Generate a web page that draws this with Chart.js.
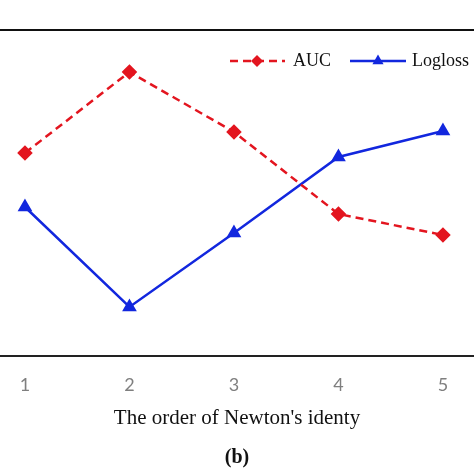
<!DOCTYPE html>
<html>
<head>
<meta charset="utf-8">
<script src="https://cdn.jsdelivr.net/npm/chart.js@4/dist/chart.umd.min.js"></script>
<style>
html, body { margin: 0; padding: 0; background: #fff; }
#wrap { width: 474px; height: 474px; }
</style>
</head>
<body>
<div id="wrap"><canvas id="myChart"></canvas></div>
<script>
// values (no y axis shown, so the units are relative)
const xvals = [1, 2, 3, 4, 5];
const auc = [203, 284, 224, 142, 121];
const logloss = [149, 49, 123, 199, 225];
const seriesNames = ['AUC', 'Logloss'];
const xTitle = "The order of Newton's identy";
const caption = '(b)';

const red = '#e3151f';
const blue = '#1227de';

// legend drawn inside the plot, plus the top frame line
const innerLegend = {
  id: 'innerLegend',
  afterDraw(chart) {
    const ctx = chart.ctx;
    const area = chart.chartArea;
    ctx.save();
    // top line
    ctx.strokeStyle = '#111';
    ctx.lineWidth = 2;
    ctx.beginPath();
    ctx.moveTo(0, area.top);
    ctx.lineTo(chart.width, area.top);
    ctx.stroke();

    const y = area.top + 31;
    // AUC
    ctx.strokeStyle = red;
    ctx.lineWidth = 2.5;
    ctx.setLineDash([8, 5]);
    ctx.beginPath();
    ctx.moveTo(230, y);
    ctx.lineTo(285, y);
    ctx.stroke();
    ctx.setLineDash([]);
    ctx.fillStyle = red;
    ctx.beginPath();
    ctx.moveTo(257 - 6, y);
    ctx.lineTo(257, y - 6);
    ctx.lineTo(257 + 6, y);
    ctx.lineTo(257, y + 6);
    ctx.closePath();
    ctx.fill();
    // Logloss
    ctx.strokeStyle = blue;
    ctx.beginPath();
    ctx.moveTo(350, y);
    ctx.lineTo(406, y);
    ctx.stroke();
    ctx.fillStyle = blue;
    ctx.beginPath();
    ctx.moveTo(378, y - 6.5);
    ctx.lineTo(378 + 5.6, y + 3.3);
    ctx.lineTo(378 - 5.6, y + 3.3);
    ctx.closePath();
    ctx.fill();

    ctx.fillStyle = '#111';
    ctx.font = '18px "Liberation Serif"';
    ctx.textBaseline = 'middle';
    ctx.textAlign = 'left';
    ctx.fillText(seriesNames[0], 293, y);
    ctx.fillText(seriesNames[1], 412, y);
    ctx.restore();
  }
};

const ctx = document.getElementById('myChart').getContext('2d');
const myChart = new Chart(ctx, {
  type: 'line',
  data: {
    datasets: [{
      label: seriesNames[0],
      data: xvals.map((x, i) => ({ x: x, y: auc[i] })),
      borderColor: red,
      backgroundColor: red,
      borderWidth: 2.5,
      borderDash: [8, 5],
      pointStyle: 'rectRot',
      pointRadius: 6,
      tension: 0
    }, {
      label: seriesNames[1],
      data: xvals.map((x, i) => ({ x: x, y: logloss[i] })),
      borderColor: blue,
      backgroundColor: blue,
      borderWidth: 2.5,
      pointStyle: 'triangle',
      pointRadius: 6,
      tension: 0
    }]
  },
  options: {
    responsive: true,
    maintainAspectRatio: false,
    animation: false,
    events: [],
    layout: { autoPadding: false, padding: { top: 30, left: 0, right: 0, bottom: 0 } },
    plugins: {
      legend: { display: false },
      tooltip: { enabled: false },
      title: {
        display: true,
        position: 'bottom',
        text: caption,
        color: '#111',
        font: { family: '"Liberation Serif"', size: 20, weight: 'bold' },
        padding: { top: 2, bottom: 4 }
      }
    },
    scales: {
      x: {
        type: 'linear',
        min: 0.761,
        max: 5.297,
        afterBuildTicks: s => { s.ticks = xvals.map(v => ({ value: v })); },
        afterFit: s => { s.height = 88; },
        grid: { display: false, drawTicks: false },
        border: { display: true, color: '#222', width: 2 },
        ticks: {
          color: '#7f7f7f',
          padding: 18,
          maxRotation: 0,
          font: { family: 'Lato', size: 18 }
        },
        title: {
          display: true,
          text: xTitle,
          color: '#111',
          font: { family: '"Liberation Serif"', size: 21 },
          padding: { top: 0, bottom: 13 }
        }
      },
      y: {
        display: false,
        min: 0,
        max: 326
      }
    }
  },
  plugins: [innerLegend]
});
</script>
</body>
</html>
